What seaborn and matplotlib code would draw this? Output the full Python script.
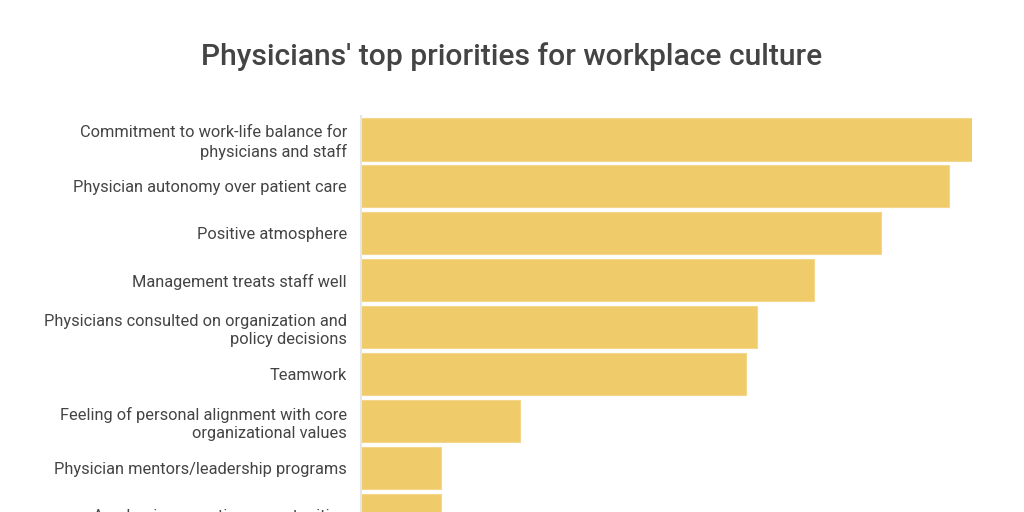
import pandas as pd
import numpy as np
import matplotlib.pyplot as plt
import seaborn as sns

# priorities, top to bottom (the last one is cut off in the original picture)
priorities = [
    "Commitment to work-life balance for\nphysicians and staff",
    "Physician autonomy over patient care",
    "Positive atmosphere",
    "Management treats staff well",
    "Physicians consulted on organization and\npolicy decisions",
    "Teamwork",
    "Feeling of personal alignment with core\norganizational values",
    "Physician mentors/leadership programs",
    "Academic promotion opportunities",
]
# share of physicians (%)
share = [61.1, 58.8, 52.0, 45.3, 39.6, 38.5, 15.9, 8.0, 8.0]

df = pd.DataFrame({"priority": priorities, "share": share})

sns.set_style('white')
plt.rcParams['font.family'] = ['Roboto', 'DejaVu Sans']

fig = plt.figure(figsize=(10.24, 5.12), dpi=100)
ax = fig.add_axes([361/1024, 1 - 116/512 - 9*46.9/512, (972 - 361)/1024, 9*46.9/512])

sns.barplot(data=df, x='share', y='priority', orient='h', color='#efcb6a',
            saturation=1, width=0.9, edgecolor='#f3d88c', linewidth=0.8, ax=ax)

ax.set_xlim(0, max(share))
ax.set_ylim(len(priorities) - 0.5, -0.5)
ax.set_xlabel('')
ax.set_ylabel('')
ax.set_xticks([])
ax.tick_params(axis='y', length=0, pad=10, labelsize=11.8, labelcolor='#444444')
for lbl in ax.get_yticklabels():
    lbl.set_linespacing(1.3)
for s in ['top', 'right', 'bottom']:
    ax.spines[s].set_visible(False)
ax.spines['left'].set_color('#e6e6e6')
ax.spines['left'].set_linewidth(1.5)

fig.text(0.5, 1 - 57/512, "Physicians' top priorities for workplace culture",
         ha='center', va='center', fontsize=21.6, fontweight='medium', color='#444444')

fig.savefig('out.png', dpi=100)
